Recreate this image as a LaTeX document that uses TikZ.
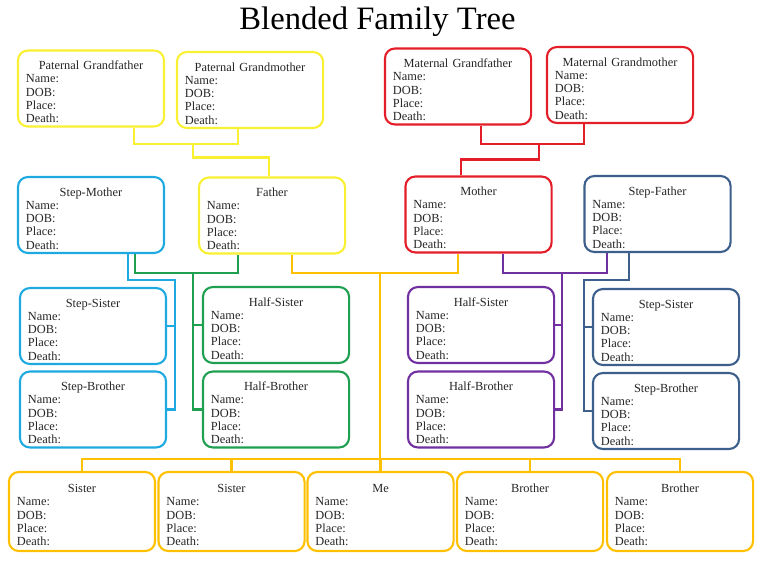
\documentclass[tikz,border=0pt]{standalone}
\usepackage{fontspec}
\setmainfont{Liberation Serif}
\usetikzlibrary{calc}
\definecolor{patyellow}{RGB}{250,240,50}
\definecolor{matred}{RGB}{228,30,40}
\definecolor{smblue}{RGB}{30,170,225}
\definecolor{hgreen}{RGB}{30,160,80}
\definecolor{hpurple}{RGB}{112,48,160}
\definecolor{sfblue}{RGB}{60,95,140}
\definecolor{kidgold}{RGB}{255,192,0}
\newcommand{\fields}{Name:\\DOB:\\Place:\\Death:}
\newcommand{\who}[1]{\makebox[\linewidth]{\rule{0pt}{11pt}#1}\\\fields}

\begin{document}
\begin{tikzpicture}[x=0.025cm,y=-0.025cm]
\tikzstyle{card}=[draw,line width=1.5pt,rounded corners=7pt,fill=white,text width=92.5pt,inner xsep=5.7pt,inner ysep=0pt,minimum height=54pt,align=left,font=\fontsize{8.8}{9.4}\selectfont,text=black!85]
\tikzstyle{kid}=[card,draw=kidgold,minimum height=56.2pt]
\tikzstyle{link}=[line width=1.5pt]
\useasboundingbox (0,0) rectangle (764,562);
\node[font=\fontsize{23.2}{27}\selectfont,anchor=base] (title) at (377.5,29.5) {Blended Family Tree};

\node[card,draw=patyellow] (pgf) at (91,88.5) {\who{Paternal Grandfather}};
\node[card,draw=patyellow] (pgm) at (250,90) {\who{Paternal Grandmother}};
\node[card,draw=matred] (mgf) at (458,86.5) {\who{Maternal Grandfather}};
\node[card,draw=matred] (mgm) at (620,85) {\who{Maternal Grandmother}};

\node[card,draw=smblue] (stepmother) at (91,215) {\who{Step-Mother}};
\node[card,draw=patyellow] (father) at (272,215.5) {\who{Father}};
\node[card,draw=matred] (mother) at (478.5,214.5) {\who{Mother}};
\node[card,draw=sfblue] (stepfather) at (657.5,214) {\who{Step-Father}};

\node[card,draw=smblue] (stepsisterl) at (93,326) {\who{Step-Sister}};
\node[card,draw=smblue] (stepbrotherl) at (93,409.5) {\who{Step-Brother}};
\node[card,draw=hgreen] (halfsisterl) at (276,325) {\who{Half-Sister}};
\node[card,draw=hgreen] (halfbrotherl) at (276,409.5) {\who{Half-Brother}};
\node[card,draw=hpurple] (halfsisterr) at (481,325) {\who{Half-Sister}};
\node[card,draw=hpurple] (halfbrotherr) at (481,409.5) {\who{Half-Brother}};
\node[card,draw=sfblue] (stepsisterr) at (666,327) {\who{Step-Sister}};
\node[card,draw=sfblue] (stepbrotherr) at (666,411) {\who{Step-Brother}};

\node[kid] (sister1) at (82,511.5) {\who{Sister}};
\node[kid] (sister2) at (231.5,511.5) {\who{Sister}};
\node[kid] (me) at (380.5,511.5) {\who{Me}};
\node[kid] (brother1) at (530,511.5) {\who{Brother}};
\node[kid] (brother2) at (680,511.5) {\who{Brother}};

\coordinate (pbar) at (193,144);
\draw[link,patyellow] ($(pgf.south)+(43,0)$) |- (pbar) -| ($(pgm.south)+(-12,0)$);
\draw[link,patyellow] (pbar) |- ($(father.north)+(-3,-19)$) -- ($(father.north)+(-3,0)$);

\coordinate (mbar) at (539,144);
\draw[link,matred] ($(mgf.south)+(23,0)$) |- (mbar) -| ($(mgm.south)+(-36,0)$);
\draw[link,matred] (mbar) |- ($(mother.north)+(-17.5,-16)$) -- ($(mother.north)+(-17.5,0)$);

\coordinate (sbar) at (175,280);
\draw[link,smblue] ($(stepmother.south)+(37,0)$) |- (sbar) |- (stepbrotherl.east);
\draw[link,smblue] (stepsisterl.east) -- (stepsisterl.east -| sbar);

\coordinate (gbar) at (193,273);
\draw[link,hgreen] ($(stepmother.south)+(44,0)$) |- (gbar) -| ($(father.south)+(-34,0)$);
\draw[link,hgreen] (gbar) |- (halfbrotherl.west);
\draw[link,hgreen] (halfsisterl.west) -- (halfsisterl.west -| gbar);

\coordinate (kbar) at (380,273);
\coordinate (kbus) at (380,459);
\draw[link,kidgold] ($(father.south)+(20,0)$) |- (kbar) -| ($(mother.south)+(-20.5,0)$);
\draw[link,kidgold] (kbar) -- (kbus);
\draw[link,kidgold] (sister1.north) |- (kbus) -| (brother2.north);
\foreach \k in {sister2,me,brother1} \draw[link,kidgold] (\k.north) -- (\k.north |- kbus);

\coordinate (hbar) at (562,273);
\draw[link,hpurple] ($(mother.south)+(24.5,0)$) |- (hbar) -| ($(stepfather.south)+(-50.5,0)$);
\draw[link,hpurple] (hbar) |- (halfbrotherr.east);
\draw[link,hpurple] (halfsisterr.east) -- (halfsisterr.east -| hbar);

\coordinate (fbar) at (584,280);
\draw[link,sfblue] ($(stepfather.south)+(-28.5,0)$) |- (fbar) |- (stepbrotherr.west);
\draw[link,sfblue] (stepsisterr.west) -- (stepsisterr.west -| fbar);
\end{tikzpicture}
\end{document}
